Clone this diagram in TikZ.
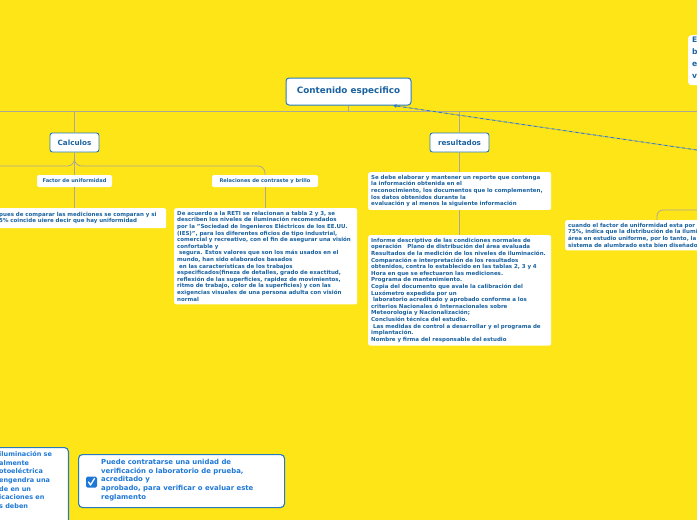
\documentclass[tikz,border=0pt]{standalone}
\usepackage{fontspec}
\setmainfont{DejaVu Sans}
\usetikzlibrary{arrows.meta}
\definecolor{bg}{RGB}{253,229,24}
\definecolor{bord}{RGB}{38,122,190}
\definecolor{txt}{RGB}{26,98,160}
\definecolor{btxt}{RGB}{30,120,215}
\definecolor{conn}{RGB}{172,168,150}
\tikzset{
  x=1pt, y=-1pt,
  link/.style={draw=conn, line width=0.8pt},
  topic/.style={draw=bord, line width=1pt, fill=white, rounded corners=3pt,
    text=txt, font=\bfseries\fontsize{8.8}{10}\selectfont, inner sep=0pt},
  subtopic/.style={draw=bord, line width=0.9pt, fill=white, rounded corners=2.5pt,
    text=txt, font=\bfseries\fontsize{7.2}{8}\selectfont, inner sep=0pt},
  label/.style={fill=white, rounded corners=2pt, text=txt,
    font=\bfseries\fontsize{5.1}{6}\selectfont, inner sep=0pt},
  textbox/.style={fill=white, rounded corners=2pt, text=txt, align=left,
    font=\bfseries\fontsize{5.5}{6.6}\selectfont, anchor=north west,
    inner xsep=3pt, inner ysep=3pt},
  bluebox/.style={draw=bord, line width=1.1pt, fill=white, rounded corners=4pt},
  bluetext/.style={text=btxt, align=left, anchor=north west, inner sep=0pt,
    font=\bfseries\fontsize{6.9}{8.7}\selectfont},
}
\begin{document}
\begin{tikzpicture}
\fill[bg] (0,0) rectangle (697,520);
\useasboundingbox (0,0) rectangle (697,520);

% coordinates
\coordinate (hl) at (0,111);
\coordinate (hr) at (697,111);
\coordinate (bry) at (0,166);
\coordinate (rr) at (697,210);
\coordinate (rbx) at (657,0);
\coordinate (dr) at (697,150);
\coordinate (dx) at (393,0);

% main horizontal line
\draw[link] (hl) -- (hr);

% nodes
\node[topic, minimum width=125pt, minimum height=27pt] (main) at (348.5,91.5) {Contenido especifico};
\node[subtopic, minimum width=49pt, minimum height=19pt] (calc) at (74.5,142.5) {Calculos};
\node[subtopic, minimum width=59pt, minimum height=19pt] (res) at (459.5,142.5) {resultados};
\node[label, minimum width=75pt, minimum height=12pt] (fac) at (74.5,181) {Factor de uniformidad};
\node[label, minimum width=106pt, minimum height=12pt] (rel) at (265,181) {Relaciones de contraste y brillo};

% connectors
\draw[link] (main.south) -- (main.south |- hl);
\draw[link] (calc.north |- hl) -- (calc.north);
\draw[link] (res.north |- hl) -- (res.north);
\draw[link] (calc.south) -- (fac.north);
\draw[link, rounded corners=7pt] (calc.south) -- (calc.south |- bry) -- (rel.north |- bry) -- (rel.north);
\draw[link, rounded corners=7pt] (calc.south) -- (calc.south |- bry) -- (bry);

% text boxes
\node[textbox, text width=164pt, minimum height=20pt] (factxt) at (-4,208) {%
pues de comparar las mediciones se comparan y si\\
5\% coincide uiere decir que hay uniformidad};
\node[textbox, text width=177pt] (reltxt) at (174,208) {%
De acuerdo a la RETI se relacionan a tabla 2 y 3, se\\
describen los niveles de iluminación recomendados\\
por la "Sociedad de Ingenieros Eléctricos de los EE.UU.\\
(IES)", para los diferentes oficios de tipo industrial,\\
comercial y recreativo, con el fin de asegurar una visión\\
confortable y\\
\ segura. Estos valores que son los más usados en el\\
mundo, han sido elaborados basados\\
\ en las características de los trabajos\\
especificados(fineza de detalles, grado de exactitud,\\
reflexión de las superficies, rapidez de movimientos,\\
ritmo de trabajo, color de la superficies) y con las\\
exigencias visuales de una persona adulta con visión\\
normal};
\node[textbox, text width=177pt] (res1) at (368,172) {%
Se debe elaborar y mantener un reporte que contenga\\
la información obtenida en el\\
reconocimiento, los documentos que lo complementen,\\
los datos obtenidos durante la\\
evaluación y al menos la siguiente información};
\node[textbox, text width=177pt] (res2) at (368,235) {%
Informe descriptivo de las condiciones normales de\\
operación \ \ Plano de distribución del área evaluada\\
\mbox{Resultados de la medición de los niveles de iluminación.}\\
Comparación e interpretación de los resultados\\
obtenidos, contra lo establecido en las tablas 2, 3 y 4\\
Hora en que se efectuaron las mediciones.\\
Programa de mantenimiento.\\
Copia del documento que avale la calibración del\\
Luxómetro expedida por un\\
\ laboratorio acreditado y aprobado conforme a los\\
criterios Nacionales ó Internacionales sobre\\
Meteorología y Nacionalización;\\
Conclusión técnica del estudio.\\
\ \mbox{Las medidas de control a desarrollar y el programa de}\\
implantación.\\
Nombre y firma del responsable del estudio};
\node[textbox, text width=200pt] (rbox) at (565,220) {%
cuando el factor de uniformidad esta por encima del\\
75\%, indica que la distribución de la iluminación en el\\
área en estudio uniforme, por lo tanto, la instalación\\
sistema de alumbrado esta bien diseñado};

\draw[link] (fac.south) -- (factxt.north -| fac.south);
\draw[link] (rel.south) -- (reltxt.north -| rel.south);
\draw[link] (res.south) -- (res1.north -| res.south);
\draw[link] (res1.south -| res.south) -- (res2.north -| res.south);
\draw[link, rounded corners=6pt] (rr) -- (rbx |- rr) -- (rbx |- rbox.north);

% top right box
\node[fill=white, rounded corners=3pt, anchor=north west, minimum width=30pt, minimum height=50pt] (tr) at (688,35) {};
\node[text=txt, align=left, anchor=north west, inner sep=0pt,
  font=\bfseries\fontsize{7.6}{12}\selectfont] (trt) at (692,37) {E\\b\\e\\v};

% dashed connector
\draw[draw=conn, line width=0.9pt, dash pattern=on 3pt off 3pt, dash phase=3pt] (dr) -- (dx |- main.south);
\draw[draw=bord, line width=0.9pt, dash pattern=on 3pt off 3pt, -{Latex[length=3.5pt,width=4pt]}] (dr) -- (dx |- main.south);

% bottom left box
\node[bluebox, anchor=north east, minimum width=90pt, minimum height=90pt] (bl) at (69,447) {};
\node[bluetext, font=\bfseries\fontsize{6.5}{8.7}\selectfont] (blt) at (-1,451) {%
iluminación se\\
almente\\
otoeléctrica\\
engendra una\\
de en un\\
icaciones en\\
s deben};

% bottom middle box
\node[bluebox, anchor=north west, minimum width=206pt, minimum height=53pt] (bm) at (78,454) {};
\node[fill=btxt, rounded corners=1.5pt, minimum size=11pt, inner sep=0pt] (chk) at (91.5,482) {};
\draw[white, line width=1.3pt, line cap=round, line join=round]
  ([xshift=-3pt]chk.center) -- ++(2,3) -- ++(4,-6.5);
\node[bluetext] (bmt) at (101,459) {%
Puede contratarse una unidad de\\
verificación o laboratorio de prueba,\\
acreditado y\\
aprobado, para verificar o evaluar este\\
reglamento};
\end{tikzpicture}
\end{document}
